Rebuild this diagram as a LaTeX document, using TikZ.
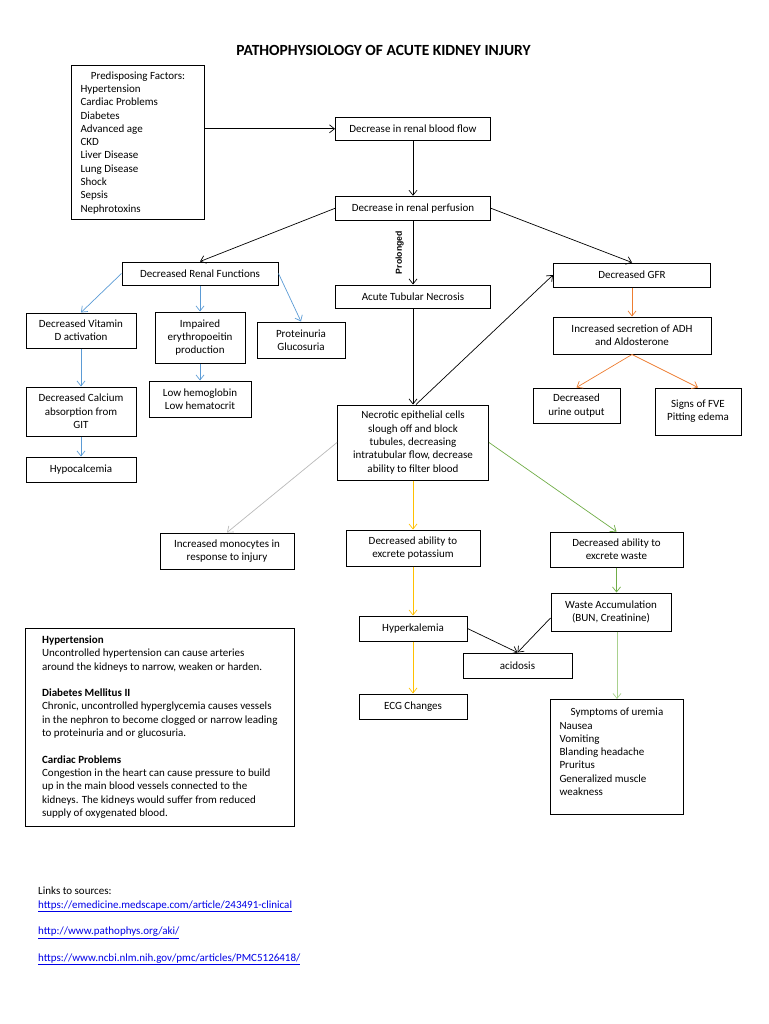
\documentclass[tikz,border=0pt]{standalone}
\usepackage{fontspec}
\setmainfont{Carlito}
\newfontfamily\prolongfont{Liberation Sans}
\usetikzlibrary{arrows.meta}
\definecolor{akiblue}{RGB}{91,155,213}
\definecolor{akiorange}{RGB}{237,125,49}
\definecolor{akigray}{RGB}{185,185,185}
\definecolor{akiyellow}{RGB}{255,192,0}
\definecolor{akigreen}{RGB}{112,173,71}
\definecolor{akilightgreen}{RGB}{169,209,142}
\definecolor{akilink}{RGB}{0,0,230}

\begin{document}
\begin{tikzpicture}[x=1pt, y=-1pt,
    box/.style={draw, line width=1pt, align=center, inner sep=2pt,
        font=\fontsize{11}{13.3}\selectfont},
    arr/.style={-{Straight Barb[length=5pt,width=8pt]}, line width=0.7pt}]
    \useasboundingbox (0,0) rectangle (768,1024);

    % Title
    \node[font=\fontsize{15.5}{18}\selectfont\bfseries] (title) at (383.5,50.5) {PATHOPHYSIOLOGY OF ACUTE KIDNEY INJURY};

    % Causes
    \node[box, inner xsep=9pt, inner ysep=0pt, minimum height=154pt, anchor=north west] (pre) at (71,65.5)
        {\begin{tabular}{@{}p{115pt}@{}}
         \multicolumn{1}{@{}c@{}}{Predisposing Factors:}\\
         Hypertension\\ Cardiac Problems\\ Diabetes\\ Advanced age\\ CKD\\ Liver Disease\\ Lung Disease\\ Shock\\ Sepsis\\ Nephrotoxins
         \end{tabular}};
    \node[box, minimum width=155pt, minimum height=23pt] (flow) at (413,128.8) {Decrease in renal blood flow};
    \node[box, minimum width=155pt, minimum height=24pt] (perf) at (413,208.3) {Decrease in renal perfusion};
    \node[box, minimum width=155pt, minimum height=23pt] (atn) at (413,296.5) {Acute Tubular Necrosis};

    % Renal functions (left)
    \node[box, minimum width=156pt, minimum height=23pt] (drf) at (200,273.5) {Decreased Renal Functions};
    \node[box, minimum width=110pt, minimum height=35pt] (vitd) at (81,330.5) {Decreased Vitamin\\D activation};
    \node[box, minimum width=90pt, minimum height=51pt] (epo) at (200,337.5) {Impaired\\erythropoeitin\\production};
    \node[box, minimum width=88pt, minimum height=36pt] (prot) at (301,340) {Proteinuria\\Glucosuria};
    \node[box, minimum width=110pt, minimum height=49pt] (calc) at (81,411.5) {Decreased Calcium\\absorption from\\GIT};
    \node[box, minimum width=102pt, minimum height=36pt] (lowhb) at (200,399) {Low hemoglobin\\Low hematocrit};
    \node[box, minimum width=110pt, minimum height=25pt] (hypoca) at (81,469.5) {Hypocalcemia};

    % GFR (right)
    \node[box, minimum width=157pt, minimum height=24pt] (gfr) at (632,275) {Decreased GFR};
    \node[box, minimum width=158pt, minimum height=37pt] (adh) at (632,335.5) {Increased secretion of ADH\\and Aldosterone};
    \node[box, minimum width=87pt, minimum height=35pt] (urine) at (576.5,405.5) {Decreased\\urine output};
    \node[box, minimum width=86pt, minimum height=47pt] (fve) at (698,411.5) {Signs of FVE\\Pitting edema};

    % Necrosis and what follows
    \node[box, minimum width=151pt, minimum height=75pt] (necro) at (413,442.5)
        {Necrotic epithelial cells\\slough off and block\\tubules, decreasing\\intratubular flow, decrease\\ability to filter blood};
    \node[box, minimum width=134pt, minimum height=36pt] (mono) at (227,551) {Increased monocytes in\\response to injury};
    \node[box, minimum width=134pt, minimum height=36pt] (pot) at (413,548) {Decreased ability to\\excrete potassium};
    \node[box, minimum width=133pt, minimum height=35pt] (waste) at (616.5,549.5) {Decreased ability to\\excrete waste};
    \node[box, minimum width=120pt, minimum height=38pt] (wacc) at (611,612) {Waste Accumulation\\(BUN, Creatinine)};
    \node[box, minimum width=108pt, minimum height=25pt] (hyperk) at (413,628.5) {Hyperkalemia};
    \node[box, minimum width=109pt, minimum height=25pt] (acid) at (517.5,665.5) {acidosis};
    \node[box, minimum width=108pt, minimum height=25pt] (ecg) at (413,706.5) {ECG Changes};
    \node[box, inner xsep=9pt, inner ysep=0pt, minimum height=115pt, anchor=north west] (symp) at (550,699)
        {\begin{tabular}{@{}p{115pt}@{}}
         \multicolumn{1}{@{}c@{}}{Symptoms of uremia}\\
         Nausea\\ Vomiting\\ Blanding headache\\ Pruritus\\ Generalized muscle\\ weakness\\[8pt]
         \end{tabular}};

    % Notes
    \node[box, align=left, minimum width=268.5pt, minimum height=198pt] (notes) at (159.8,727)
        {\textbf{Hypertension}\\
         Uncontrolled hypertension can cause arteries\\
         around the kidneys to narrow, weaken or harden.\\[13.3pt]
         \textbf{Diabetes Mellitus II}\\
         Chronic, uncontrolled hyperglycemia causes vessels\\
         in the nephron to become clogged or narrow leading\\
         to proteinuria and or glucosuria.\\[13.3pt]
         \textbf{Cardiac Problems}\\
         Congestion in the heart can cause pressure to build\\
         up in the  main blood vessels connected to the\\
         kidneys. The kidneys would suffer from reduced\\
         supply of oxygenated blood.};

    % Sources
    \node[font=\fontsize{11}{13.3}\selectfont, align=left, inner sep=0pt, anchor=north west] (links) at (38,887)
        {Links to sources:\\
         \textcolor{akilink}{\underline{https://emedicine.medscape.com/article/243491-clinical}}\\[13.3pt]
         \textcolor{akilink}{\underline{http://www.pathophys.org/aki/}}\\[13.3pt]
         \textcolor{akilink}{\underline{https://www.ncbi.nlm.nih.gov/pmc/articles/PMC5126418/}}};

    % Main chain
    \draw[arr] (pre.east |- flow.west) -- (flow.west);
    \draw[arr] (flow) -- (perf);
    \draw[arr] (perf.west) -- (drf.north);
    \draw[arr] (perf) -- node[rotate=90, anchor=south, inner xsep=0pt, inner ysep=9pt,
        font=\prolongfont\fontsize{8.7}{10}\selectfont\bfseries] (prolonged) {Prolonged} (atn);
    \draw[arr] (perf.east) -- (gfr.north);
    \draw[arr] (atn) -- (necro);
    \draw[arr] ([xshift=3pt]necro.north) -- (gfr.west);

    % Renal function branch
    \draw[arr, akiblue] (drf.west) -- (vitd.north);
    \draw[arr, akiblue] (drf) -- (epo);
    \draw[arr, akiblue] (drf.east) -- (prot.north);
    \draw[arr, akiblue] (vitd) -- (calc);
    \draw[arr, akiblue] (calc) -- (hypoca);
    \draw[arr, akiblue] (epo) -- (lowhb);

    % GFR branch
    \draw[arr, akiorange] (gfr) -- (adh);
    \draw[arr, akiorange] (adh.south) -- (urine.north);
    \draw[arr, akiorange] (adh.south) -- (fve.north);

    % Necrosis branch
    \draw[arr, akigray] (necro.west) -- (mono.north);
    \draw[arr, akiyellow] (necro) -- (pot);
    \draw[arr, akiyellow] (pot) -- (hyperk);
    \draw[arr, akiyellow] (hyperk) -- (ecg);
    \draw[arr, akigreen] (necro.east) -- (waste.north);
    \draw[arr, akigreen] (waste.south) -- (waste.south |- wacc.north);
    \draw[arr, akilightgreen] (symp.north |- wacc.south) -- (symp.north);
    \draw[arr] (hyperk.east) -- (acid.north);
    \draw[arr] ([yshift=-6pt]wacc.west) -- (acid.north);
\end{tikzpicture}
\end{document}
